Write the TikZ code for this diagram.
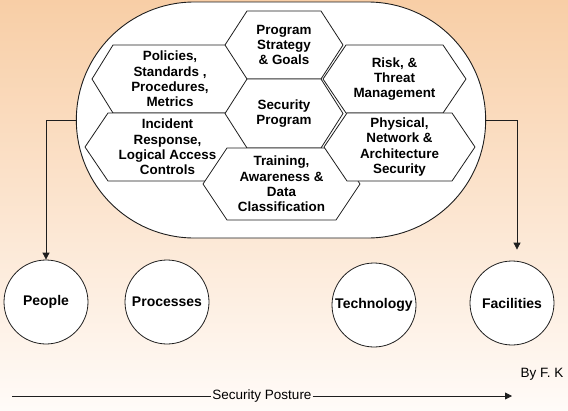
\documentclass[tikz,border=0pt]{standalone}
\usepackage{fontspec}
\setmainfont{Liberation Sans}
\usetikzlibrary{shapes.misc,arrows.meta}

\definecolor{peach}{RGB}{248,206,166}
\definecolor{paper}{RGB}{255,251,248}
\definecolor{ink}{RGB}{30,30,30}

\tikzset{
	hexline/.style={draw=ink, fill=white, line width=0.8pt},
	hexlabel/.style={align=center, inner sep=0pt, font=\bfseries\fontsize{13.4}{15.4}\selectfont},
	ring/.style={circle, draw=ink, fill=white, line width=0.8pt, minimum size=84pt, inner sep=0pt, font=\bfseries\fontsize{14}{16}\selectfont},
	arr/.style={-{Triangle[length=7pt,width=7pt]}, draw=ink, line width=0.8pt}
}

\newcommand{\hexcell}[6]{%
	\begin{scope}[shift={(#2)}]
		\filldraw[hexline] (-#3,0) -- (-#3+#4,-#5) -- (#3-#4,-#5) -- (#3,0) -- (#3-#4,#5) -- (-#3+#4,#5) -- cycle;
	\end{scope}
	\node[hexlabel] (#1) at (#2) {#6};
}

\begin{document}
\begin{tikzpicture}[x=1pt, y=-1pt]
		\shade[top color=peach, bottom color=paper] (0,0) rectangle (568,410);
		\useasboundingbox (0,0) rectangle (568,410);
		
		\node [rounded rectangle, draw=ink, fill=white, line width=0.9pt, minimum width=416pt, minimum height=236pt] (pgm) at (281,120) {};
		
		\hexcell{policy}{170,79}{78}{21}{34}{Policies,\\Standards ,\\Procedures,\\Metrics}
		\hexcell{incident}{167.5,147}{82.5}{23}{34}{Incident\\Response,\\Logical Access\\Controls}
		\hexcell{goals}{284,45}{59}{22}{34}{Program\\Strategy\\\& Goals}
		\hexcell{secprog}{284,113.5}{59}{22}{34.5}{Security\\Program}
		\hexcell{training}{281.5,184}{78.5}{24}{36}{Training,\\Awareness \&\\Data\\Classification}
		\hexcell{risk}{394.5,79}{71.5}{23}{34}{Risk, \&\\Threat\\Management}
		\hexcell{physical}{399.5,147}{75.5}{23}{34}{Physical,\\Network \&\\Architecture\\Security}
		
		\node [ring] (people) at (46,302) {People};
		\node [ring] (process) at (167,302) {Processes};
		\node [ring] (tech) at (374,305) {Technology};
		\node [ring] (facility) at (512,303) {Facilities};
		
		\coordinate (pstart) at (12,396);
		\coordinate (pend) at (512,396);
		\node [inner sep=1pt, font=\fontsize{13.5}{15}\selectfont] (posture) at (262,396) {Security Posture};
		\node [font=\fontsize{13.5}{15}\selectfont] (author) at (542,374) {By F. K};
		
		\draw[arr]
		(pgm.west) -| (people.north);
		\draw[arr, shorten >=11pt]
		(pgm.east) -| ([xshift=5pt]facility.north);
		
		\draw[draw=ink, line width=0.8pt]
		(pstart) -- (posture);
		\draw[arr]
		(posture) -- (pend);
		
\end{tikzpicture}
\end{document}
